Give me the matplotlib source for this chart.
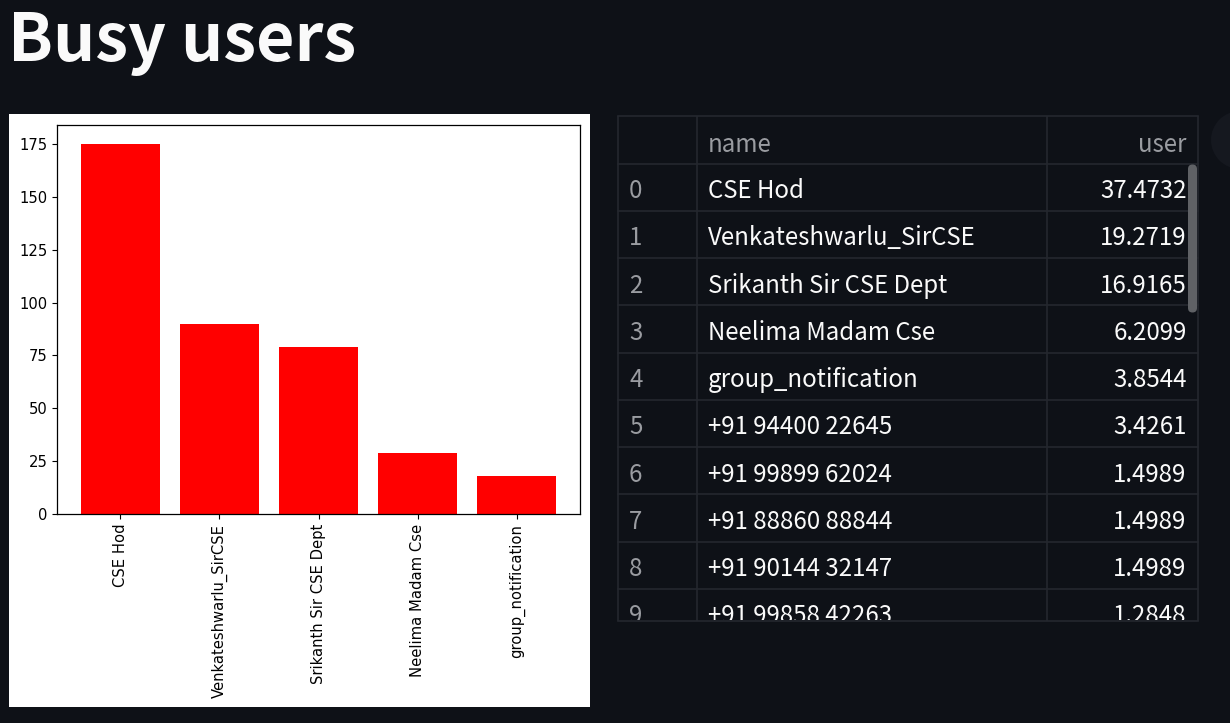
import matplotlib
matplotlib.use("Agg")
import matplotlib.pyplot as plt
from matplotlib.patches import Rectangle, FancyBboxPatch, Circle

busy_names = ["CSE Hod", "Venkateshwarlu_SirCSE", "Srikanth Sir CSE Dept", "Neelima Madam Cse", "group_notification"]
busy_counts = [175, 90, 79, 29, 18]
yticks = [0, 25, 50, 75, 100, 125, 150, 175]

table_index = ["0", "1", "2", "3", "4", "5", "6", "7", "8", "9"]
table_names = ["CSE Hod", "Venkateshwarlu_SirCSE", "Srikanth Sir CSE Dept", "Neelima Madam Cse",
               "group_notification", "+91 94400 22645", "+91 99899 62024", "+91 88860 88844",
               "+91 90144 32147", "+91 99858 42263"]
table_values = ["37.4732", "19.2719", "16.9165", "6.2099", "3.8544", "3.4261", "1.4989", "1.4989", "1.4989", "1.2848"]
table_columns = ["name", "user"]

W, H = 1230, 723
BG = "#0e1117"
GRID = "#24272e"
FONT = ["Noto Sans CJK SC", "DejaVu Sans"]
FS = 17.3

fig = plt.figure(figsize=(W / 100, H / 100), dpi=100, facecolor=BG)

ov = fig.add_axes([0, 0, 1, 1], zorder=1)
ov.set_xlim(0, W)
ov.set_ylim(H, 0)
ov.axis("off")

ov.text(8.5, 61, "Busy users", color="#fafafa", fontsize=47.7, fontweight="black",
        family=FONT, ha="left", va="baseline")

ov.add_patch(Rectangle((9, 114), 581, 593, facecolor="white", edgecolor="none"))

ax = fig.add_axes([57 / W, 1 - 514 / H, 523 / W, 389.5 / H], zorder=2)
ax.bar(busy_names, busy_counts, color="red", width=0.8)
ax.set_ylim(0, 184.2)
ax.set_yticks(yticks)
ax.tick_params(labelsize=10.6, length=3.5, width=0.8)
ax.tick_params(axis="x", labelrotation=90)
for s in ax.spines.values():
    s.set_linewidth(0.9)

# table
x_left, x_idx, x_name, x_right = 618, 697, 1047, 1198
y_top, y_head, row_h, y_bot = 116, 163.5, 47.25, 621
clip = Rectangle((x_left, y_top), x_right - x_left, y_bot - 1 - y_top, transform=ov.transData)

ov.add_patch(Circle((1240, 140), 29, facecolor="#15181f", edgecolor="none"))

TXT_OFF = 11
for i, (idx, nm, v) in enumerate(zip(table_index, table_names, table_values)):
    yb = y_head + row_h * i + row_h / 2 + TXT_OFF
    for x, s, col, ha in [(629, idx, "#9a9ca1", "left"), (708, nm, "#fafafa", "left"), (1186.5, v, "#fafafa", "right")]:
        t = ov.text(x, yb, s, color=col, fontsize=FS, fontweight="medium", family=FONT, ha=ha, va="baseline")
        t.set_clip_path(clip)
        t.set_clip_on(True)

ov.text(708, y_head - 47.5 / 2 + TXT_OFF + 1, table_columns[0], color="#9a9ca1", fontsize=FS, fontweight="medium", family=FONT, ha="left", va="baseline")
ov.text(1186.5, y_head - 47.5 / 2 + TXT_OFF + 1, table_columns[1], color="#9a9ca1", fontsize=FS, fontweight="medium", family=FONT, ha="right", va="baseline")

for x in (x_left, x_idx, x_name, x_right):
    ov.plot([x, x], [y_top, y_bot], color=GRID, lw=1.2, solid_capstyle="butt")
ov.plot([x_left, x_right], [y_top, y_top], color=GRID, lw=1.2)
ov.plot([x_left, x_right], [y_bot, y_bot], color=GRID, lw=1.2)
for i in range(10):
    y = y_head + row_h * i
    ov.plot([x_left, x_right], [y, y], color=GRID, lw=1.2)

ov.add_patch(FancyBboxPatch((1188, 164.5), 9, 148, boxstyle="round,pad=0,rounding_size=4.5",
                            mutation_aspect=1, facecolor="#5f6165", edgecolor="none", zorder=6))

fig.savefig("out.png", dpi=100, facecolor=BG)
